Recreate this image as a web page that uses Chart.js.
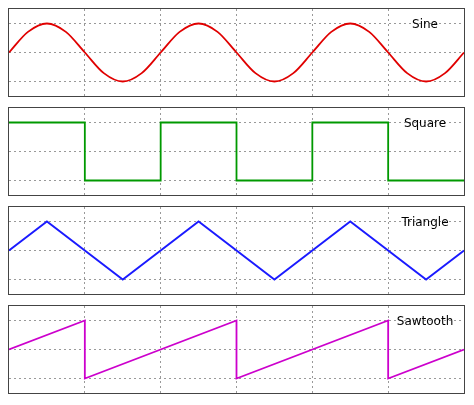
<!DOCTYPE html>
<html>
<head>
<script src="https://cdn.jsdelivr.net/npm/chart.js@4"></script>
<style>
  body { margin: 0; background: #fff; }
  .panel { position: absolute; left: 8px; width: 457px; height: 89px; border: 1px solid #444; box-sizing: border-box; }
</style>
</head>
<body>
<div class="panel" style="top:8px"><canvas id="c0"></canvas></div>
<div class="panel" style="top:107px"><canvas id="c1"></canvas></div>
<div class="panel" style="top:206px"><canvas id="c2"></canvas></div>
<div class="panel" style="top:305px"><canvas id="c3"></canvas></div>
<script>
// x is in half-periods, 0..6 (three full cycles)
const names = ["Sine", "Square", "Triangle", "Sawtooth"];
const colors = ["#e00000", "#009900", "#1a1aff", "#cc00cc"];

const sineX = [0, 0.25, 0.5, 0.75, 1, 1.25, 1.5, 1.75, 2, 2.25, 2.5, 2.75, 3,
               3.25, 3.5, 3.75, 4, 4.25, 4.5, 4.75, 5, 5.25, 5.5, 5.75, 6];
const sineY = [0, 0.71, 1, 0.71, 0, -0.71, -1, -0.71, 0, 0.71, 1, 0.71, 0,
               -0.71, -1, -0.71, 0, 0.71, 1, 0.71, 0, -0.71, -1, -0.71, 0];

const squareX = [0, 1, 1, 2, 2, 3, 3, 4, 4, 5, 5, 6];
const squareY = [1, 1, -1, -1, 1, 1, -1, -1, 1, 1, -1, -1];

const triangleX = [0, 0.5, 1.5, 2.5, 3.5, 4.5, 5.5, 6];
const triangleY = [0, 1, -1, 1, -1, 1, -1, 0];

const sawX = [0, 1, 1, 3, 3, 5, 5, 6];
const sawY = [0, 1, -1, 1, -1, 1, -1, 0];

const series = [[sineX, sineY], [squareX, squareY], [triangleX, triangleY], [sawX, sawY]];

const labelPlugin = {
  id: 'label',
  afterDraw(chart, args, opts) {
    const ctx = chart.ctx;
    ctx.save();
    ctx.font = '12px "DejaVu Sans"';
    ctx.fillStyle = '#000';
    ctx.textAlign = 'center';
    ctx.textBaseline = 'middle';
    ctx.fillText(opts.text, chart.chartArea.right - 39, chart.chartArea.top + 16);
    ctx.restore();
  }
};

series.forEach(([xs, ys], i) => {
  new Chart(document.getElementById('c' + i), {
    type: 'line',
    data: {
      datasets: [{
        data: xs.map((x, j) => ({ x: x, y: ys[j] })),
        borderColor: colors[i],
        borderWidth: 1.8,
        pointRadius: 0,
        cubicInterpolationMode: i === 0 ? 'monotone' : 'default',
        tension: 0
      }]
    },
    options: {
      responsive: true,
      maintainAspectRatio: false,
      animation: false,
      layout: { padding: 0 },
      plugins: { legend: { display: false }, tooltip: { enabled: false }, label: { text: names[i] } },
      scales: {
        x: {
          type: 'linear', min: 0, max: 6,
          afterBuildTicks: s => { s.ticks = [1, 2, 3, 4, 5].map(v => ({ value: v })); },
          ticks: { display: false },
          border: { display: false, dash: [2, 3] },
          grid: { color: '#999', drawTicks: false }
        },
        y: {
          min: -1.5, max: 1.5,
          afterBuildTicks: s => { s.ticks = [-1, 0, 1].map(v => ({ value: v })); },
          ticks: { display: false },
          border: { display: false, dash: [2, 3] },
          grid: { color: '#999', drawTicks: false }
        }
      }
    },
    plugins: [labelPlugin]
  });
});
</script>
</body>
</html>
